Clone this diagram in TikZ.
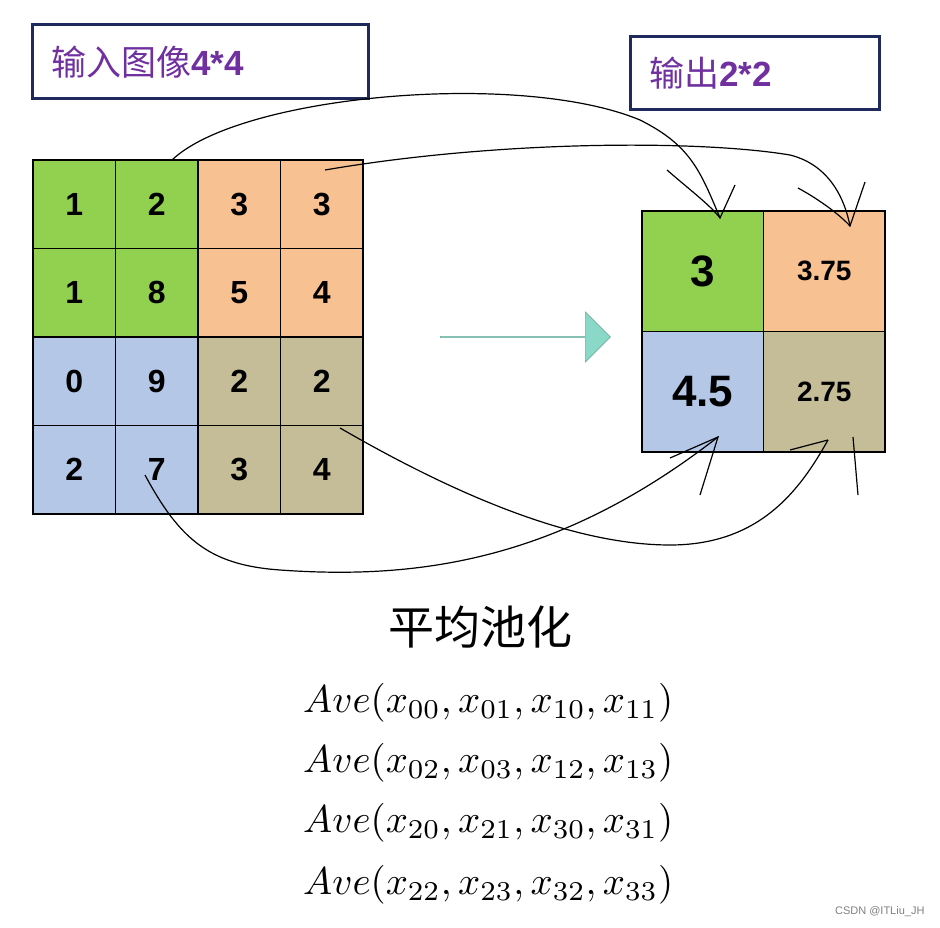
\documentclass[tikz,border=0pt]{standalone}
\usepackage{fontspec}
\setmainfont{Liberation Sans}
\newfontfamily\cjk{Noto Sans CJK SC}
\usetikzlibrary{shapes.arrows}
\definecolor{cg}{HTML}{92D050}
\definecolor{co}{HTML}{F8C191}
\definecolor{cb}{HTML}{B4C7E7}
\definecolor{ct}{HTML}{C4BD97}
\definecolor{nav}{HTML}{1F2A5C}
\definecolor{pur}{HTML}{7030A0}
\definecolor{teal}{HTML}{8AD8C8}
\begin{document}
\begin{tikzpicture}[x=1pt,y=-1pt,
 cell/.style={draw=black,line width=1.5pt,minimum width=82.5pt,minimum height=88.5pt,inner sep=0pt,font=\bfseries\fontsize{32}{32}\selectfont},
 ocell/.style={draw=black,line width=1.5pt,minimum width=121.5pt,minimum height=120.5pt,inner sep=0pt,font=\bfseries},
 tbox/.style={draw=nav,line width=3pt,inner sep=0pt},
 hand/.style={line width=1.2pt},
 frm/.style={anchor=west,inner sep=0pt}]
\useasboundingbox (0,0) rectangle (940,928);
\foreach \r/\a/\b/\c/\d in {0/1/2/3/3,1/1/8/5/4,2/0/9/2/2,3/2/7/3/4}{
 \foreach \cc/\v in {0/\a,1/\b,2/\c,3/\d}{
  \pgfmathsetmacro\col{\r<2 ? (\cc<2 ? 0 : 1) : (\cc<2 ? 2 : 3)}
  \ifcase\numexpr\col\relax \def\fc{cg}\or\def\fc{co}\or\def\fc{cb}\or\def\fc{ct}\fi
  \node[cell,fill=\fc] (c\r\cc) at ({74.25+82.5*\cc},{204.25+88.5*\r}) {\v};
 }}
\node[ocell,fill=cg,font=\bfseries\fontsize{44}{44}\selectfont] (o00) at (702.75,271.25) {3};
\node[ocell,fill=co,font=\bfseries\fontsize{28}{28}\selectfont] (o01) at (824.25,271.25) {3.75};
\node[ocell,fill=cb,font=\bfseries\fontsize{44}{44}\selectfont] (o10) at (702.75,391.75) {4.5};
\node[ocell,fill=ct,font=\bfseries\fontsize{28}{28}\selectfont] (o11) at (824.25,391.75) {2.75};
\node[tbox,minimum width=336pt,minimum height=74pt] (t1) at (200,62) {};
\node[anchor=west,text=pur,font=\fontsize{35}{35}\selectfont] (t1t) at (48,62) {{\cjk 输入图像}\textbf{4*4}};
\node[tbox,minimum width=249pt,minimum height=73pt] (t2) at (754.5,73.5) {};
\node[anchor=west,text=pur,font=\fontsize{35}{35}\selectfont] (t2t) at (646,73.5) {{\cjk 输出}\textbf{2*2}};
\node[single arrow,draw=teal!80!black,line width=0.6pt,fill=teal,minimum height=170pt,minimum width=50pt,single arrow head extend=11pt,inner sep=0pt,single arrow tip angle=90] (ar) at (525,337) {};
\node[font=\cjk\fontsize{46}{46}\selectfont] (tt) at (480,627) {平均池化};
\node[frm] (f1) at (303,703) {\resizebox{370pt}{!}{$Ave(x_{00},x_{01},x_{10},x_{11})$}};
\node[frm] (f2) at (303,763) {\resizebox{370pt}{!}{$Ave(x_{02},x_{03},x_{12},x_{13})$}};
\node[frm] (f3) at (303,823) {\resizebox{370pt}{!}{$Ave(x_{20},x_{21},x_{30},x_{31})$}};
\node[frm] (f4) at (303,885) {\resizebox{370pt}{!}{$Ave(x_{22},x_{23},x_{32},x_{33})$}};
\node[text=gray,font=\fontsize{11}{11}\selectfont,anchor=east] (wm) at (928,912) {CSDN @ITLiu\_JH};
\coordinate (s1) at (172,160); \coordinate (e1) at (720,218);
\draw[hand] (s1) .. controls (240,95) and (520,70) .. (640,120) .. controls (690,145) and (700,170) .. (e1);
\draw[hand] (667,170) .. controls (690,190) and (710,205) .. (e1) -- (735,185);
\coordinate (s2) at (325,170); \coordinate (e2) at (850,226);
\draw[hand] (s2) .. controls (500,140) and (700,140) .. (790,155) .. controls (830,165) and (845,200) .. (e2);
\draw[hand] (798,188) .. controls (820,200) and (840,215) .. (e2) -- (865,182);
\coordinate (s3) at (145,475); \coordinate (e3) at (718,437);
\draw[hand] (s3) .. controls (180,540) and (210,565) .. (280,570) .. controls (420,580) and (560,560) .. (e3);
\draw[hand] (670,458) -- (e3) -- (700,495);
\coordinate (s4) at (340,428); \coordinate (e4) at (828,440);
\draw[hand] (s4) .. controls (430,480) and (560,545) .. (670,545) .. controls (760,545) and (800,490) .. (e4);
\draw[hand] (790,450) -- (e4);
\draw[hand] (853,437) -- (858,495);
\end{tikzpicture}
\end{document}
